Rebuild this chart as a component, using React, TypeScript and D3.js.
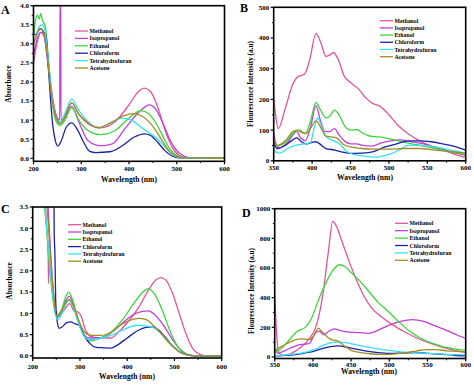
import React from "react";
import * as d3 from "d3";

type Pt = [number, number];

const solvents = ["Methanol", "Isopropanol", "Ethanol", "Chloroform", "Tetrahydrofuran", "Acetone"];
const colors = ["#e2559a", "#c23fd8", "#3fd43f", "#1c22a8", "#38e2f0", "#a08c24"];

// panel A - absorbance
const aMethanol: Pt[] = [[200, 2.5], [207, 3.0], [215, 3.3], [222, 3.25], [230, 2.6], [240, 1.6], [248, 1.1], [256, 0.92], [265, 1.05], [280, 1.45], [295, 1.15], [315, 0.9], [340, 0.8], [370, 0.95], [400, 1.4], [420, 1.75], [432, 1.84], [445, 1.75], [460, 1.35], [475, 0.75], [490, 0.3], [505, 0.08], [520, 0.02], [560, 0.0], [600, 0.0]];
const aIsopropanol: Pt[] = [[200, 2.7], [207, 3.1], [215, 3.3], [222, 3.2], [230, 2.5], [240, 1.5], [250, 1.05], [255, 1.0], [255.5, 4.2], [257, 4.2], [257.5, 1.0], [265, 1.05], [280, 1.36], [295, 0.95], [315, 0.45], [340, 0.33], [365, 0.38], [390, 0.75], [420, 1.2], [443, 1.4], [455, 1.3], [470, 0.95], [485, 0.5], [500, 0.2], [515, 0.06], [530, 0.01], [600, 0.0]];
const aEthanol: Pt[] = [[200, 3.2], [204, 3.6], [208, 3.75], [212, 3.65], [215, 3.8], [219, 3.6], [224, 3.5], [232, 2.5], [240, 1.4], [248, 0.95], [256, 0.86], [265, 0.98], [280, 1.33], [295, 1.0], [315, 0.72], [340, 0.62], [370, 0.72], [400, 1.05], [425, 1.25], [440, 1.18], [455, 0.95], [470, 0.6], [485, 0.25], [500, 0.07], [515, 0.01], [600, 0.0]];
const aChloroform: Pt[] = [[200, 3.25], [205, 3.25], [210, 3.35], [216, 3.4], [220, 3.32], [226, 3.25], [232, 2.2], [240, 0.9], [246, 0.45], [251, 0.32], [258, 0.45], [268, 0.8], [280, 0.93], [292, 0.75], [305, 0.42], [318, 0.18], [330, 0.15], [360, 0.17], [385, 0.32], [410, 0.55], [432, 0.64], [445, 0.6], [460, 0.42], [475, 0.2], [490, 0.06], [505, 0.01], [600, 0.0]];
const aThf: Pt[] = [[200, 3.0], [205, 3.2], [212, 3.45], [218, 3.5], [224, 3.35], [232, 2.4], [240, 1.5], [248, 1.05], [256, 0.95], [265, 1.15], [280, 1.55], [295, 1.25], [315, 0.95], [335, 0.8], [360, 0.92], [385, 1.05], [405, 1.0], [425, 0.82], [445, 0.64], [460, 0.5], [475, 0.3], [490, 0.1], [505, 0.02], [600, 0.0]];
const aAcetone: Pt[] = [[200, 3.0], [206, 3.2], [213, 3.4], [220, 3.35], [228, 2.8], [236, 1.8], [246, 1.1], [256, 0.9], [265, 1.08], [280, 1.45], [295, 1.15], [315, 0.92], [335, 0.8], [360, 0.92], [390, 1.12], [410, 1.17], [425, 1.12], [440, 0.98], [455, 0.75], [470, 0.45], [485, 0.18], [500, 0.05], [515, 0.01], [600, 0.0]];

// panel B - fluorescence
const bMethanol: Pt[] = [[350, 205], [353, 140], [356, 105], [365, 170], [375, 250], [382, 275], [390, 282], [397, 330], [405, 415], [412, 380], [418, 340], [423, 345], [428, 352], [434, 330], [442, 275], [450, 255], [460, 235], [470, 205], [478, 188], [488, 178], [500, 150], [512, 115], [525, 88], [540, 65], [555, 48], [570, 35], [585, 22], [600, 10]];
const bIsopropanol: Pt[] = [[350, 90], [353, 55], [357, 42], [368, 60], [380, 95], [385, 75], [391, 65], [398, 110], [405, 180], [411, 130], [417, 95], [423, 95], [429, 105], [435, 85], [442, 65], [450, 55], [458, 55], [466, 50], [478, 48], [490, 58], [502, 65], [515, 68], [530, 62], [545, 55], [560, 45], [580, 30], [600, 18]];
const bEthanol: Pt[] = [[350, 60], [355, 48], [365, 60], [378, 95], [384, 100], [391, 88], [398, 130], [405, 190], [411, 165], [418, 140], [423, 145], [429, 165], [435, 150], [442, 115], [450, 100], [458, 102], [466, 90], [476, 80], [488, 78], [500, 72], [515, 63], [530, 55], [545, 48], [560, 40], [580, 30], [600, 20]];
const bChloroform: Pt[] = [[350, 55], [355, 40], [365, 50], [373, 65], [380, 75], [386, 62], [392, 55], [400, 60], [405, 62], [410, 55], [418, 40], [430, 35], [440, 28], [450, 24], [465, 25], [480, 30], [495, 45], [510, 55], [525, 65], [540, 65], [555, 62], [570, 55], [585, 47], [600, 35]];
const bThf: Pt[] = [[350, 40], [353, 28], [358, 25], [368, 40], [378, 50], [390, 55], [398, 60], [403, 110], [407, 140], [412, 115], [418, 80], [428, 65], [436, 55], [445, 30], [455, 20], [470, 15], [482, 12], [495, 18], [505, 25], [515, 38], [525, 50], [540, 50], [560, 45], [580, 35], [600, 25]];
const bAcetone: Pt[] = [[350, 65], [355, 50], [365, 65], [375, 95], [381, 100], [387, 92], [393, 90], [399, 110], [405, 130], [411, 110], [418, 80], [425, 78], [432, 75], [440, 55], [450, 45], [465, 40], [480, 38], [500, 38], [520, 40], [540, 40], [560, 35], [580, 30], [600, 25]];

// panel C - absorbance
const cMethanol: Pt[] = [[226, 3.6], [230, 3.0], [233, 2.2], [233.5, 1.7], [234.5, 2.3], [238, 1.9], [244, 1.3], [251, 0.9], [258, 0.95], [268, 1.1], [278, 1.23], [288, 1.05], [296, 1.03], [302, 0.95], [312, 0.6], [325, 0.45], [345, 0.42], [365, 0.42], [385, 0.6], [405, 0.85], [425, 1.15], [445, 1.55], [460, 1.78], [471, 1.84], [482, 1.78], [495, 1.5], [510, 1.0], [525, 0.5], [540, 0.15], [555, 0.03], [570, 0.0], [600, 0.0]];
const cIsopropanol: Pt[] = [[232, 3.6], [238, 2.4], [244, 1.5], [251, 0.92], [260, 1.0], [270, 1.3], [277, 1.4], [285, 1.25], [295, 0.85], [308, 0.5], [320, 0.42], [340, 0.42], [360, 0.5], [385, 0.72], [410, 0.95], [430, 1.04], [445, 1.06], [460, 0.95], [478, 0.7], [495, 0.4], [510, 0.18], [525, 0.05], [545, 0.0], [600, 0.0]];
const cEthanol: Pt[] = [[224, 3.6], [230, 2.9], [238, 1.8], [246, 1.1], [252, 0.92], [262, 1.1], [270, 1.4], [276, 1.5], [285, 1.3], [295, 0.9], [308, 0.5], [320, 0.35], [340, 0.4], [365, 0.55], [390, 0.85], [415, 1.25], [435, 1.52], [445, 1.58], [458, 1.45], [475, 1.05], [490, 0.6], [505, 0.25], [520, 0.07], [535, 0.01], [600, 0.0]];
const cChloroform: Pt[] = [[244, 3.6], [245, 3.6], [245.5, 2.9], [247, 2.4], [249, 1.2], [252, 0.8], [256, 0.65], [262, 0.68], [272, 0.78], [280, 0.8], [290, 0.75], [298, 0.72], [308, 0.5], [320, 0.3], [335, 0.2], [350, 0.19], [365, 0.18], [380, 0.26], [400, 0.42], [420, 0.58], [440, 0.67], [452, 0.68], [465, 0.62], [480, 0.45], [495, 0.25], [510, 0.1], [525, 0.03], [545, 0.0], [600, 0.0]];
const cThf: Pt[] = [[225, 3.6], [232, 2.7], [240, 1.7], [247, 1.05], [253, 0.85], [262, 1.0], [270, 1.22], [277, 1.3], [286, 1.15], [296, 0.8], [310, 0.45], [322, 0.38], [345, 0.42], [370, 0.5], [395, 0.63], [420, 0.72], [445, 0.7], [462, 0.62], [478, 0.45], [495, 0.25], [510, 0.1], [525, 0.03], [545, 0.0], [600, 0.0]];
const cAcetone: Pt[] = [[230, 3.6], [236, 2.6], [243, 1.6], [250, 0.95], [260, 1.05], [270, 1.25], [277, 1.33], [286, 1.18], [298, 0.82], [310, 0.55], [325, 0.48], [345, 0.48], [365, 0.55], [390, 0.75], [410, 0.85], [425, 0.88], [440, 0.85], [455, 0.72], [470, 0.55], [485, 0.35], [500, 0.18], [515, 0.07], [530, 0.02], [550, 0.0], [600, 0.0]];

// panel D - fluorescence
const dMethanol: Pt[] = [[350, 420], [352, 200], [355, 30], [362, 10], [372, 25], [385, 70], [395, 120], [405, 220], [413, 420], [420, 700], [426, 915], [431, 880], [438, 780], [447, 650], [457, 520], [467, 410], [477, 330], [490, 270], [505, 215], [520, 170], [535, 130], [550, 100], [570, 65], [585, 45], [600, 30]];
const dIsopropanol: Pt[] = [[350, 60], [354, 25], [362, 40], [375, 70], [385, 85], [395, 90], [403, 160], [408, 175], [414, 150], [420, 170], [428, 190], [435, 180], [445, 170], [460, 165], [473, 160], [485, 180], [500, 215], [515, 240], [530, 252], [545, 240], [560, 210], [575, 180], [590, 145], [600, 125]];
const dEthanol: Pt[] = [[350, 30], [356, 45], [368, 110], [380, 175], [390, 200], [398, 260], [407, 380], [417, 500], [427, 590], [435, 622], [442, 610], [450, 570], [460, 520], [472, 450], [485, 370], [498, 310], [512, 240], [525, 180], [540, 130], [555, 95], [570, 70], [585, 55], [600, 45]];
const dChloroform: Pt[] = [[350, 8], [360, 10], [375, 15], [390, 28], [402, 40], [413, 58], [425, 72], [433, 75], [443, 68], [455, 55], [470, 40], [485, 30], [500, 25], [520, 28], [535, 30], [550, 25], [570, 18], [585, 12], [600, 8]];
const dThf: Pt[] = [[350, 8], [360, 12], [375, 20], [390, 32], [402, 50], [413, 78], [423, 95], [433, 100], [445, 95], [458, 80], [470, 68], [485, 55], [500, 45], [515, 35], [530, 30], [550, 25], [570, 20], [600, 15]];
const dAcetone: Pt[] = [[350, 40], [357, 65], [368, 95], [378, 118], [385, 122], [395, 118], [402, 150], [407, 195], [412, 170], [418, 140], [425, 115], [433, 108], [440, 80], [450, 45], [462, 30], [475, 22], [490, 18], [505, 20], [520, 28], [535, 40], [548, 50], [560, 50], [575, 42], [590, 38], [600, 35]];

const aTicksY = [0, 0.5, 1, 1.5, 2, 2.5, 3, 3.5, 4];
const cTicksY = [0, 0.5, 1, 1.5, 2, 2.5, 3, 3.5];
const absTicksX = [200, 300, 400, 500, 600];
const flTicksX = [350, 400, 450, 500, 550, 600];
const bTicksY = [0, 100, 200, 300, 400, 500];
const dTicksY = [0, 200, 400, 600, 800, 1000];

const FONT = "'Liberation Serif', 'Times New Roman', serif";

interface PanelProps {
  id: string;
  letter: string;
  letterPos: [number, number];
  box: [number, number, number, number]; // left, right, top, bottom
  xDomain: [number, number];
  yDomain: [number, number];
  xTicks: number[];
  yTicks: number[];
  yFmt: (v: number) => string;
  yLabel: string;
  yLabelPos: [number, number];
  xLabelPos: [number, number];
  xTickDy: number;
  legendPos: [number, number];
  legendStep: number;
  series: Pt[][];
}

function Panel(p: PanelProps) {
  const [l, r, t, b] = p.box;
  const x = d3.scaleLinear().domain(p.xDomain).range([l, r]);
  const y = d3.scaleLinear().domain(p.yDomain).range([b, t]);
  const line = d3
    .line<Pt>()
    .x((d) => x(d[0]))
    .y((d) => y(d[1]))
    .curve(d3.curveMonotoneX);
  const xStep = p.xTicks[1] - p.xTicks[0];
  const yStep = p.yTicks[1] - p.yTicks[0];
  const xMinor = p.xTicks.slice(0, -1).map((v) => v + xStep / 2);
  const yMinor = p.yTicks.map((v) => v + yStep / 2).filter((v) => y(v) > t);
  return (
    <g>
      <defs>
        <clipPath id={"clip" + p.id}>
          <rect x={l} y={t} width={r - l} height={b - t} />
        </clipPath>
      </defs>
      <g clipPath={`url(#clip${p.id})`}>
        {p.series.map((s, i) => (
          <path key={i} d={line(s) || ""} fill="none" stroke={colors[i]} strokeWidth={1.3} strokeLinejoin="round" />
        ))}
      </g>
      <rect x={l} y={t} width={r - l} height={b - t} fill="none" stroke="#000" strokeWidth={1.6} />
      {p.xTicks.map((v) => (
        <g key={"x" + v}>
          <line x1={x(v)} x2={x(v)} y1={b} y2={b + 3} stroke="#000" strokeWidth={1.2} />
          <text x={x(v)} y={b + p.xTickDy} textAnchor="middle" fontSize={7} fontWeight="bold" fontFamily={FONT}>
            {v}
          </text>
        </g>
      ))}
      {xMinor.map((v) => (
        <line key={"xm" + v} x1={x(v)} x2={x(v)} y1={b} y2={b + 1.8} stroke="#000" strokeWidth={1} />
      ))}
      {p.yTicks.map((v) => (
        <g key={"y" + v}>
          <line x1={l - 3} x2={l} y1={y(v)} y2={y(v)} stroke="#000" strokeWidth={1.2} />
          <text x={l - 4.5} y={y(v) + 2.4} textAnchor="end" fontSize={7} fontWeight="bold" fontFamily={FONT}>
            {p.yFmt(v)}
          </text>
        </g>
      ))}
      {yMinor.map((v) => (
        <line key={"ym" + v} x1={l - 1.8} x2={l} y1={y(v)} y2={y(v)} stroke="#000" strokeWidth={1} />
      ))}
      <text x={p.xLabelPos[0]} y={p.xLabelPos[1]} textAnchor="middle" fontSize={7.6} fontWeight="bold" fontFamily={FONT}>
        Wavelength (nm)
      </text>
      <text
        transform={`translate(${p.yLabelPos[0]},${p.yLabelPos[1]}) rotate(-90)`}
        textAnchor="middle"
        fontSize={7.3}
        fontWeight="bold"
        fontFamily={FONT}
      >
        {p.yLabel}
      </text>
      <text x={p.letterPos[0]} y={p.letterPos[1]} fontSize={12} fontWeight="bold" fontFamily={FONT}>
        {p.letter}
      </text>
      {solvents.map((s, i) => {
        const ly = p.legendPos[1] + i * p.legendStep;
        return (
          <g key={s}>
            <line x1={p.legendPos[0]} x2={p.legendPos[0] + 13} y1={ly} y2={ly} stroke={colors[i]} strokeWidth={1.3} />
            <text x={p.legendPos[0] + 14.5} y={ly + 2} fontSize={5.8} fontWeight="bold" fontFamily={FONT}>
              {s}
            </text>
          </g>
        );
      })}
    </g>
  );
}

export default function App() {
  const f1 = (v: number) => v.toFixed(1);
  const f0 = (v: number) => String(v);
  return (
    <svg width={474} height={386} style={{ position: "absolute", left: 0, top: 0, background: "#fff" }}>
      <rect width={474} height={386} fill="#fff" />
      <Panel
        id="A"
        letter="A"
        letterPos={[1, 14]}
        box={[33.5, 224.5, 5.7, 161.3]}
        xDomain={[200, 600]}
        yDomain={[-0.08, 4]}
        xTicks={absTicksX}
        yTicks={aTicksY}
        yFmt={f1}
        yLabel="Absorbance"
        yLabelPos={[11, 84]}
        xLabelPos={[129, 181.5]}
        xTickDy={10}
        legendPos={[75, 31]}
        legendStep={7.4}
        series={[aMethanol, aIsopropanol, aEthanol, aChloroform, aThf, aAcetone]}
      />
      <Panel
        id="B"
        letter="B"
        letterPos={[240, 12]}
        box={[273.7, 465.7, 7.3, 160.8]}
        xDomain={[350, 600]}
        yDomain={[0, 500]}
        xTicks={flTicksX}
        yTicks={bTicksY}
        yFmt={f0}
        yLabel="Flourescence Intensity (a.u)"
        yLabelPos={[252.5, 84]}
        xLabelPos={[365, 180]}
        xTickDy={9.5}
        legendPos={[380, 20.7]}
        legendStep={7.2}
        series={[bMethanol, bIsopropanol, bEthanol, bChloroform, bThf, bAcetone]}
      />
      <Panel
        id="C"
        letter="C"
        letterPos={[1, 213]}
        box={[32.7, 221.7, 207, 358]}
        xDomain={[200, 600]}
        yDomain={[-0.05, 3.5]}
        xTicks={absTicksX}
        yTicks={cTicksY}
        yFmt={f1}
        yLabel="Absorbance"
        yLabelPos={[11.5, 281]}
        xLabelPos={[127, 378.5]}
        xTickDy={10.5}
        legendPos={[68, 224.7]}
        legendStep={7.3}
        series={[cMethanol, cIsopropanol, cEthanol, cChloroform, cThf, cAcetone]}
      />
      <Panel
        id="D"
        letter="D"
        letterPos={[242, 217]}
        box={[274.7, 465.7, 208.7, 358.5]}
        xDomain={[350, 600]}
        yDomain={[-10, 1000]}
        xTicks={flTicksX}
        yTicks={dTicksY}
        yFmt={f0}
        yLabel="Flourescence Intensity (a.u)"
        yLabelPos={[254, 291]}
        xLabelPos={[369, 374]}
        xTickDy={8}
        legendPos={[395, 223.3]}
        legendStep={7.4}
        series={[dMethanol, dIsopropanol, dEthanol, dChloroform, dThf, dAcetone]}
      />
    </svg>
  );
}
